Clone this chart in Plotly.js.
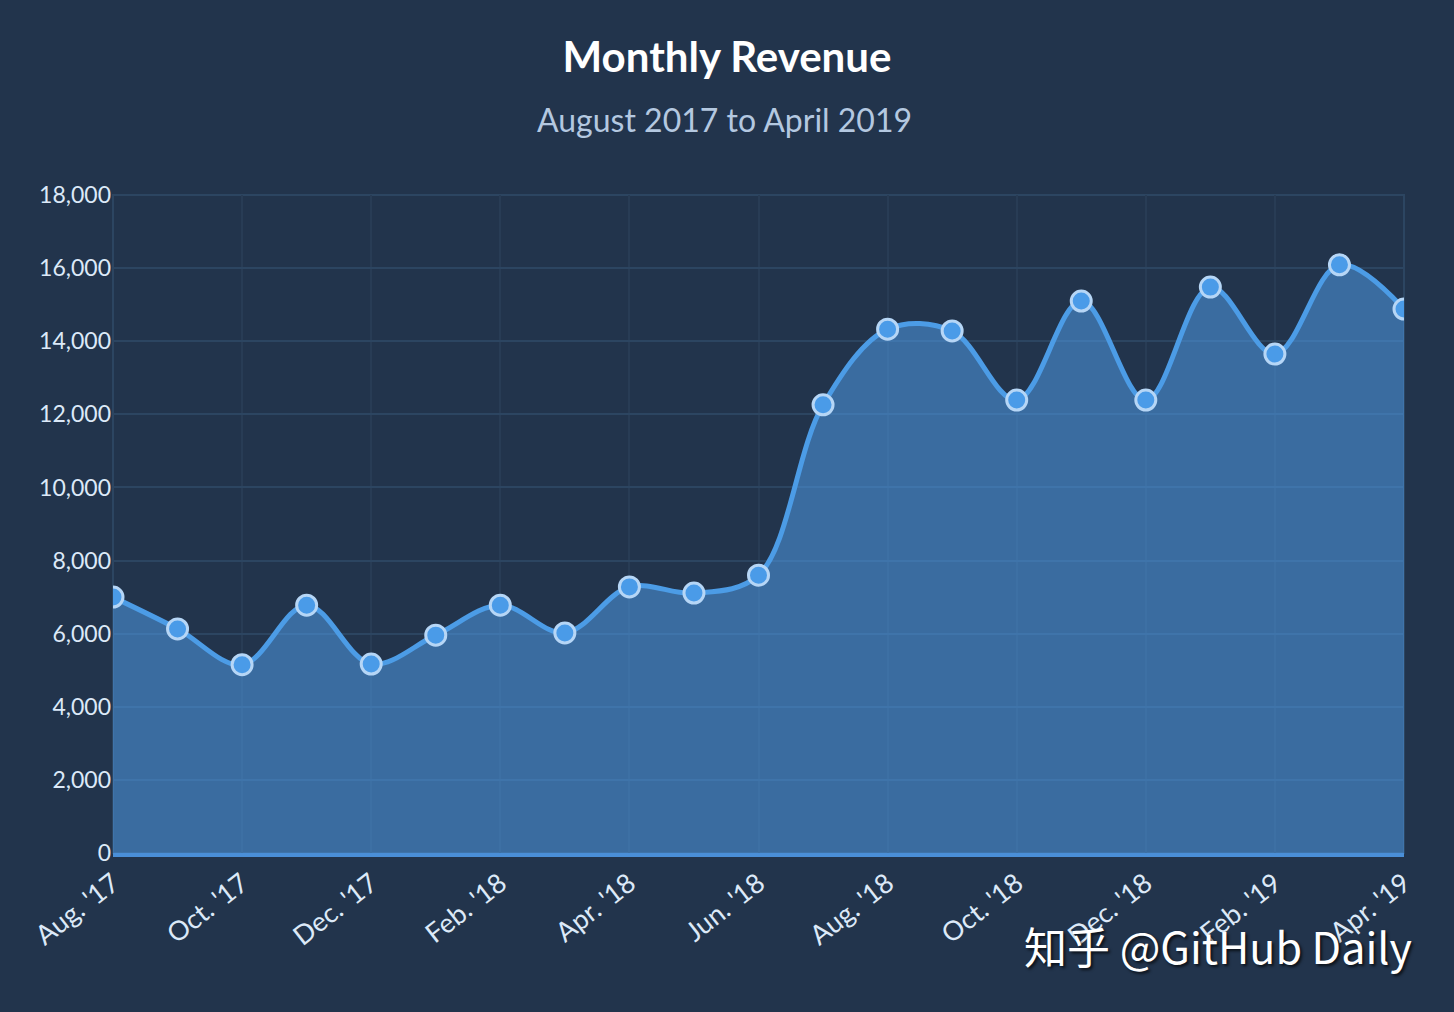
<!DOCTYPE html>
<html>
<head>
<meta charset="utf-8">
<script src="https://cdn.plot.ly/plotly-3.0.1.min.js"></script>
<style>
  html, body { margin: 0; padding: 0; background: #22344c; }
  #chart { width: 1454px; height: 1012px; }
</style>
</head>
<body>
<div id="chart"></div>
<script>
// Monthly revenue, Aug 2017 – Apr 2019
const months = [
  "Aug. '17", "Sep. '17", "Oct. '17", "Nov. '17", "Dec. '17",
  "Jan. '18", "Feb. '18", "Mar. '18", "Apr. '18", "May. '18",
  "Jun. '18", "Jul. '18", "Aug. '18", "Sep. '18", "Oct. '18",
  "Nov. '18", "Dec. '18", "Jan. '19", "Feb. '19", "Mar. '19", "Apr. '19"
];
const revenue = [
  7000, 6130, 5150, 6780, 5170,
  5960, 6780, 6020, 7280, 7110,
  7600, 12260, 14330, 14280, 12390,
  15100, 12390, 15480, 13650, 16090, 14880
];
const xTickLabels = [
  "Aug. '17", "Oct. '17", "Dec. '17", "Feb. '18", "Apr. '18", "Jun. '18",
  "Aug. '18", "Oct. '18", "Dec. '18", "Feb. '19", "Apr. '19"
];
const yTicks = [0, 2000, 4000, 6000, 8000, 10000, 12000, 14000, 16000, 18000];

const font = "Lato, 'Open Sans', sans-serif";

const trace = {
  type: "scatter",
  mode: "lines+markers",
  x: months,
  y: revenue,
  fill: "tozeroy",
  fillcolor: "rgba(82,164,244,0.5)",
  line: { shape: "spline", smoothing: 1, color: "#4c9ce6", width: 5 },
  marker: { size: 20, color: "#4a9be8", line: { color: "#b6d6f6", width: 3 } },
  hoverinfo: "x+y"
};

const layout = {
  width: 1454,
  height: 1012,
  paper_bgcolor: "#22344c",
  plot_bgcolor: "#22344c",
  margin: { l: 113, r: 50, t: 195, b: 159 },
  showlegend: false,
  font: { family: font, color: "#dce9f8" },
  title: {
    text: "<b>Monthly Revenue</b>",
    font: { family: font, size: 42, color: "#ffffff" },
    x: 0.5, xref: "container", xanchor: "center",
    y: 0.943, yref: "container", yanchor: "middle"
  },
  xaxis: {
    type: "category",
    range: [0, months.length - 1],
    tickmode: "array",
    tickvals: xTickLabels,
    ticktext: xTickLabels,
    tickangle: -38,
    tickfont: { family: font, size: 27, color: "#dce9f8" },
    showgrid: true,
    gridcolor: "#283c55",
    gridwidth: 2,
    showline: true,
    linecolor: "#4a8fd8",
    linewidth: 4,
    ticks: "",
    zeroline: false
  },
  yaxis: {
    range: [0, 18000],
    tickmode: "array",
    tickvals: yTicks,
    tickformat: ",d",
    tickfont: { family: font, size: 23, color: "#dce9f8" },
    showgrid: true,
    gridcolor: "#2c4561",
    gridwidth: 2,
    zeroline: false,
    ticks: "",
    ticklabelstandoff: 1
  },
  shapes: [
    {
      // faint frame around the plotting area (top and side edges)
      type: "rect", xref: "paper", yref: "paper",
      x0: 0, x1: 1, y0: 0, y1: 1,
      line: { color: "#2c4561", width: 2 },
      fillcolor: "rgba(0,0,0,0)",
      layer: "below"
    }
  ],
  annotations: [
    {
      // subtitle under the main title
      text: "August 2017 to April 2019",
      xref: "paper", yref: "paper",
      x: 0.4733, y: 1.114,
      xanchor: "center", yanchor: "middle",
      showarrow: false,
      font: { family: font, size: 32, color: "#b4c8e0" }
    },
    {
      text: "知乎 @GitHub Daily",
      xref: "paper", yref: "paper",
      x: 1.008, y: -0.140,
      xanchor: "right", yanchor: "middle",
      showarrow: false,
      font: {
        family: "'Noto Sans CJK SC', 'Noto Sans', sans-serif",
        size: 43, color: "#ffffff",
        shadow: "2px 2px 3px rgba(0,0,0,0.7)"
      }
    }
  ]
};

Plotly.newPlot("chart", [trace], layout, { displayModeBar: false, staticPlot: true });
</script>
</body>
</html>
